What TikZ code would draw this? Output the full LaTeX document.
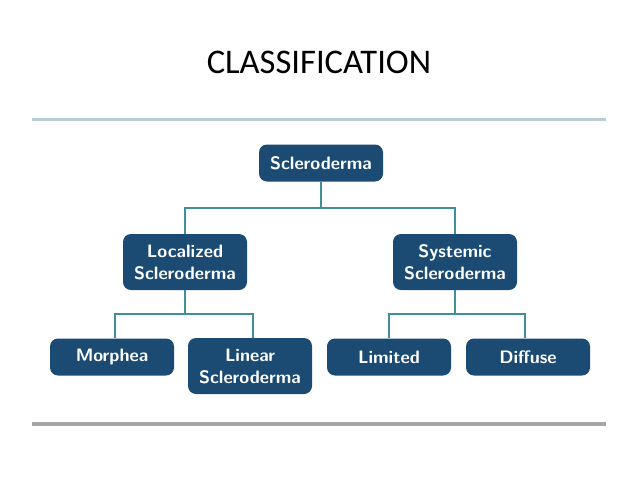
\documentclass[tikz,border=0pt]{standalone}
\usepackage{fontspec}
\setmainfont{Carlito}
\usetikzlibrary{positioning}
\definecolor{boxblue}{HTML}{1B4B72}
\definecolor{linkteal}{HTML}{3F8F9A}
\definecolor{bandgray}{HTML}{B9CBD6}
\begin{document}
\begin{tikzpicture}
[x=0.5pt,y=-0.5pt,every node/.style={rectangle,rounded corners=4pt,fill=boxblue,text=white,font=\sffamily\bfseries\small,align=center,minimum width=62pt,inner sep=2pt}]
\useasboundingbox (0,0) rectangle (638,479);

\node[fill=none,text=black,font=\LARGE,minimum width=0pt] (title) at (319,62) {CLASSIFICATION};

\node[minimum height=18.5pt] (sclero) at (321,163) {Scleroderma};
\node[minimum height=28pt] (local) at (185,262) {Localized\\Scleroderma};
\node[minimum height=28pt] (system) at (455,262) {Systemic\\Scleroderma};
\node[minimum height=18.5pt] (morph) at (112,357) {Morphea};
\node[minimum height=28pt] (linear) at (250,366) {Linear\\Scleroderma};
\node[minimum height=18.5pt] (limit) at (389,357) {Limited};
\node[minimum height=18.5pt] (diff) at (528,357) {Diffuse};

\draw[bandgray,line width=1.5pt] (32,119) -- (606,119);
\draw[gray!70,line width=2pt] (32,424) -- (606,424);

\draw[linkteal,line width=0.8pt] (sclero.south) |- (185,208) -- (local.north);
\draw[linkteal,line width=0.8pt] (sclero.south) |- (455,208) -- (system.north);
\draw[linkteal,line width=0.8pt] (local.south) |- (115,314) -- (115,338);
\draw[linkteal,line width=0.8pt] (local.south) |- (253,314) -- (253,338);
\draw[linkteal,line width=0.8pt] (system.south) |- (389,314) -- (limit.north);
\draw[linkteal,line width=0.8pt] (system.south) |- (525,314) -- (525,338);
\end{tikzpicture}
\end{document}
